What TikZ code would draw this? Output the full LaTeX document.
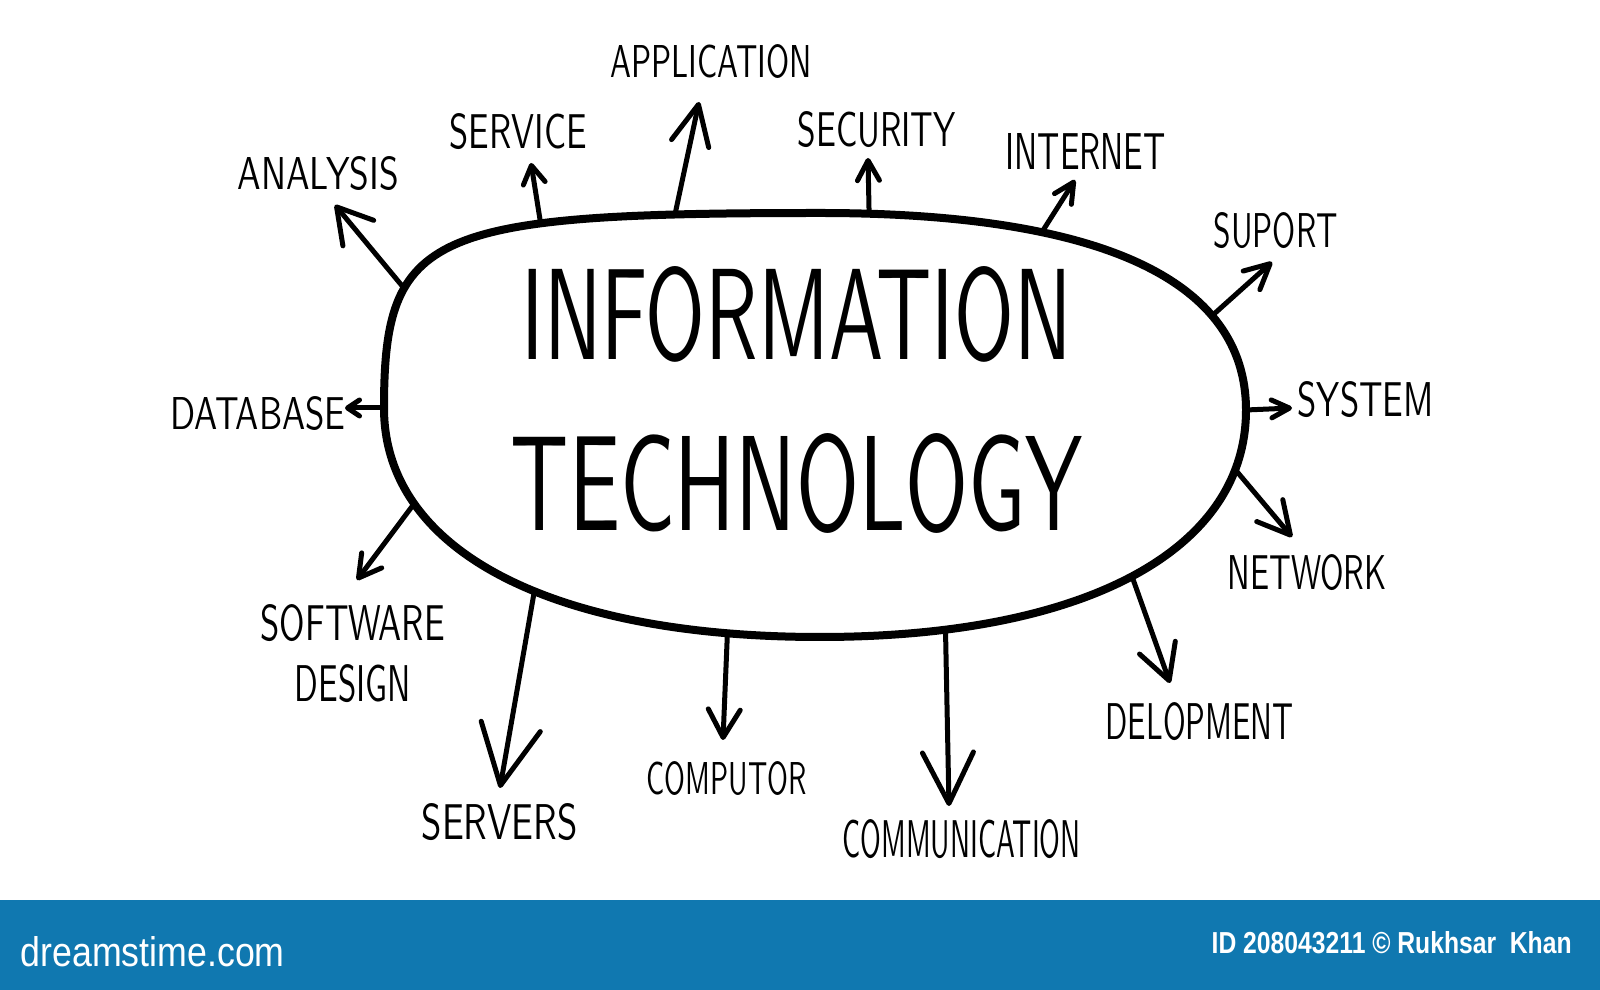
\documentclass[tikz,border=0pt]{standalone}
\usepackage{fontspec}
\usepackage{graphicx}
\newfontfamily\rodape{Liberation Sans}
\usetikzlibrary{arrows.meta,positioning}
\newlength{\pxl}\setlength{\pxl}{0.1mm}
\newcommand{\rotulo}[3]{\resizebox{#1\pxl}{#2\pxl}{\sffamily #3}}
\definecolor{azulbarra}{HTML}{1078B0}

\begin{document}
\begin{tikzpicture}[x=0.1mm, y=-0.1mm]
            % Estilos
            \tikzstyle{rot}=[inner sep=0pt, anchor=base west]
            \tikzstyle{contorno}=[line width=0.8mm, line join=round]
            \tikzset{seta/.style 2 args={line width=0.5mm, line cap=round, line join=round, -{Straight Barb[length=#1, width=#2, round]}}}

            \useasboundingbox (0,0) rectangle (1600,990);

            % Contorno (com os pontos de saida das setas)
            \draw[contorno] (384,408) coordinate (oDat)
                .. controls (384,232) and (428,213) .. (820,213)
                coordinate[pos=0.3] (oAna) coordinate[pos=0.68] (oSer) coordinate[pos=0.86] (oApl)
                .. controls (1101,213) and (1246,280) .. (1246,410)
                coordinate[pos=0.06] (oSeg) coordinate[pos=0.31] (oInt) coordinate[pos=0.72] (oSup)
                coordinate (oSis)
                .. controls (1246,551) and (1084,637) .. (820,637)
                coordinate[pos=0.15] (oRed) coordinate[pos=0.5] (oDes) coordinate[pos=0.83] (oCom)
                .. controls (550,637) and (384,550) .. (384,408)
                coordinate[pos=0.12] (oCpt) coordinate[pos=0.43] (oSrv) coordinate[pos=0.75] (oSof)
                -- cycle;

            % Pontas
            \coordinate (tAna) at (335,205);
            \coordinate (tSer) at (531,163);
            \coordinate (tApl) at (699,102);
            \coordinate (tSeg) at (868,158);
            \coordinate (tInt) at (1075,180);
            \coordinate (tSup) at (1272,262);
            \coordinate (tSis) at (1292,408);
            \coordinate (tDat) at (345,408);
            \coordinate (tRed) at (1292,537);
            \coordinate (tDes) at (1170,683);
            \coordinate (tCom) at (949,806);
            \coordinate (tCpt) at (723,740);
            \coordinate (tSrv) at (500,788);
            \coordinate (tSof) at (357,580);

            % Titulo
            \node[rot] (info) at (521,360) {\rotulo{550}{93}{INFORMATION}};
            \node[rot] (tec) at (510,531) {\rotulo{572}{97}{TECHNOLOGY}};

            % Rotulos
            \node[rot] (ana) at (237,190) {\rotulo{161}{33}{ANALYSIS}};
            \node[rot] (ser) at (449,149) {\rotulo{137}{35}{SERVICE}};
            \node[rot] (apl) at (610,78) {\rotulo{201}{33}{APPLICATION}};
            \node[rot] (seg) at (797,147) {\rotulo{158}{35}{SECURITY}};
            \node[rot] (int) at (1005,170) {\rotulo{160}{36}{INTERNET}};
            \node[rot] (sup) at (1213,248) {\rotulo{124}{35}{SUPORT}};
            \node[rot] (sis) at (1297,417) {\rotulo{136}{35}{SYSTEM}};
            \node[rot] (dat) at (170,430) {\rotulo{175}{33}{DATABASE}};
            \node[rot] (red) at (1227,590) {\rotulo{159}{35}{NETWORK}};
            \node[rot] (des) at (1105,740) {\rotulo{188}{37}{DELOPMENT}};
            \node[rot] (cpt) at (646,795) {\rotulo{160}{33}{COMPUTOR}};
            \node[rot] (srv) at (421,840) {\rotulo{156}{36}{SERVERS}};
            \node[rot] (com) at (842,858) {\rotulo{238}{38}{COMMUNICATION}};
            \node[rot] (sof) at (260,641) {\rotulo{184}{36}{SOFTWARE}};
            \node[rot] (dsg) at (294,702) {\rotulo{116}{37}{DESIGN}};

            % Setas
            \draw[seta={3.4mm}{4mm}] (oAna) -- (tAna);
            \draw[seta={1.8mm}{2.2mm}] (oSer) -- (tSer);
            \draw[seta={4mm}{3.8mm}] (oApl) -- (tApl);
            \draw[seta={2mm}{2.2mm}] (oSeg) -- (tSeg);
            \draw[seta={2mm}{2mm}] (oInt) -- (tInt);
            \draw[seta={2.5mm}{2.5mm}] (oSup) -- (tSup);
            \draw[seta={1.8mm}{1.8mm}] (oSis) -- (tSis);
            \draw[seta={1.2mm}{1.6mm}] (oDat) -- (tDat);
            \draw[seta={3.2mm}{3.4mm}] (oRed) -- (tRed);
            \draw[seta={3.5mm}{3.8mm}] (oDes) -- (tDes);
            \draw[seta={5.1mm}{5.1mm}] (oCom) -- (tCom);
            \draw[seta={2.8mm}{3.2mm}] (oCpt) -- (tCpt);
            \draw[seta={6mm}{6mm}] (oSrv) -- (tSrv);
            \draw[seta={2.2mm}{2.5mm}] (oSof) -- (tSof);

            % Rodape
            \fill[azulbarra] (0,900) rectangle (1600,990);
            \node[rot, text=white] (site) at (20,967) {\resizebox{264\pxl}{30\pxl}{\rodape dreamstime.com}};
            \node[rot, text=white] (cred) at (1211,954) {\resizebox{360\pxl}{22\pxl}{\rodape\bfseries ID 208043211 © Rukhsar\ \ Khan}};
        \end{tikzpicture}
\end{document}
